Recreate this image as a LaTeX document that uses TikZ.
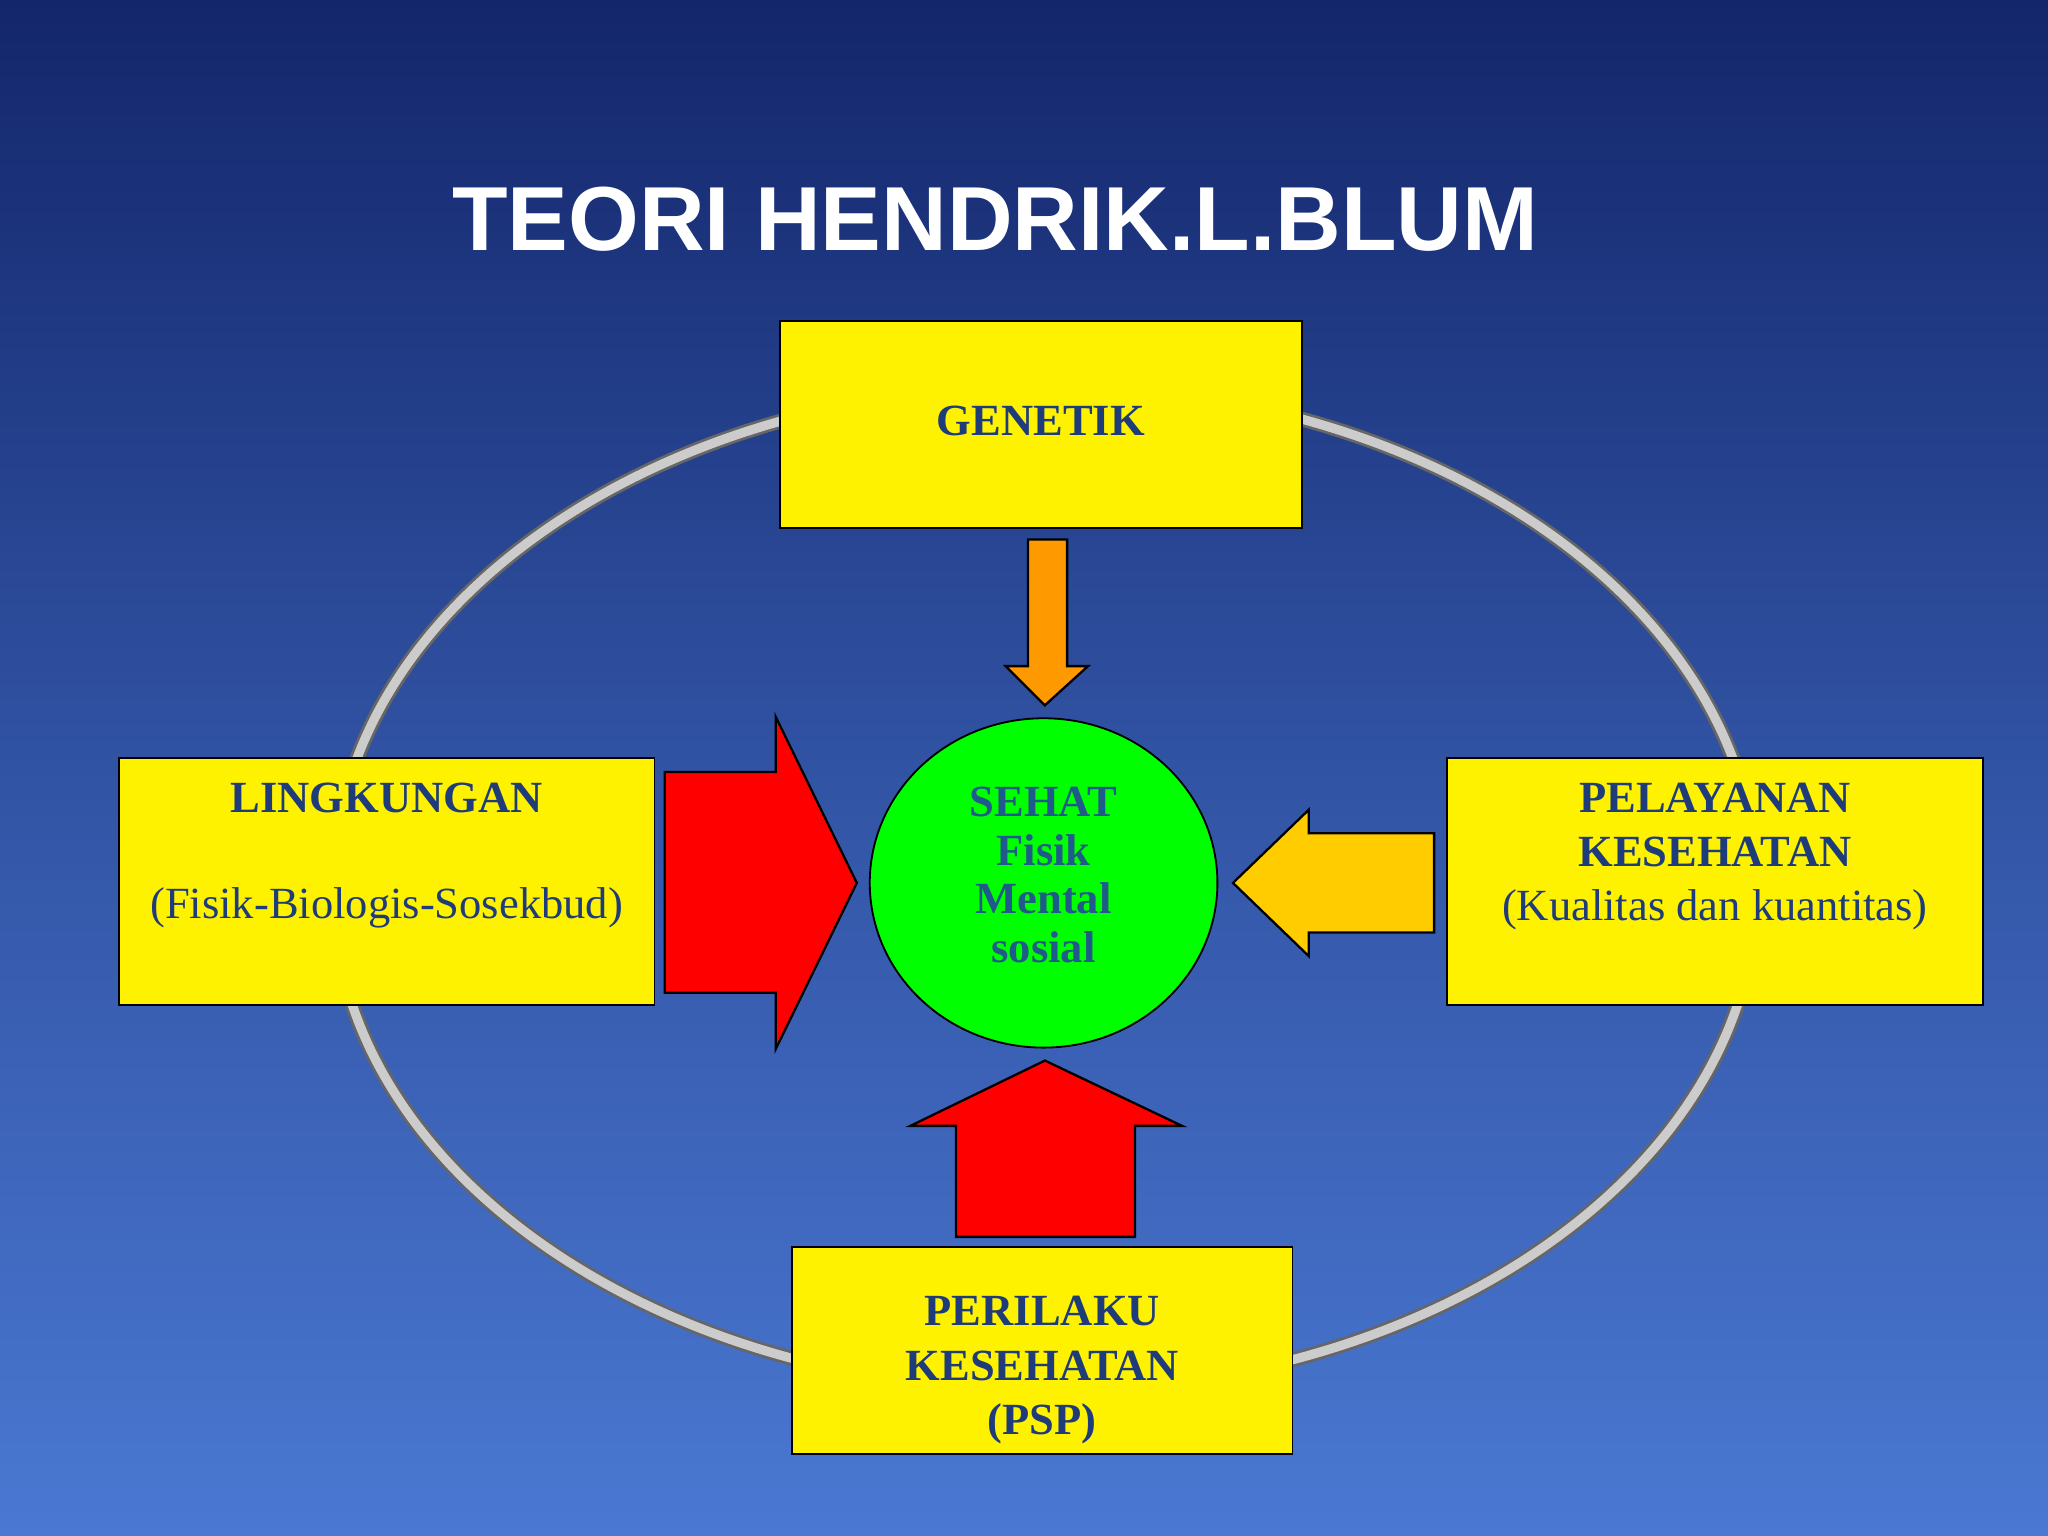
\documentclass[tikz,border=0pt]{standalone}
\usepackage{fontspec}
\setmainfont{Liberation Serif}
\setsansfont{Liberation Sans}
\usetikzlibrary{positioning, shapes.geometric}
\definecolor{navytop}{HTML}{13266B}
\definecolor{bluebot}{HTML}{4A78D2}
\definecolor{boxtext}{HTML}{1F3C7A}
\definecolor{circtext}{HTML}{1F5A8A}
\definecolor{darrow}{HTML}{FF9900}
\definecolor{larrow}{HTML}{FFCC00}
\begin{document}
\begin{tikzpicture}[
        x = 0.01cm, y = -0.01cm, % pixel grid
        factor/.style = {draw = black, fill = yellow, inner sep = 0pt},
        factortext/.style = {font = \fontsize{9.7}{11.8}\selectfont\bfseries, text = boxtext, align = center},
        bigarrow/.style = {draw = black, line width = 0.5pt}
    ]

    \useasboundingbox (0,0) rectangle (1568,1176);
    \shade[top color = navytop, bottom color = bluebot, middle color = navytop!45!bluebot] (0,0) rectangle (1568,1176);

    \node[font = \sffamily\bfseries\fontsize{19.8}{23}\selectfont, text = white] (title) at (762,168) {TEORI HENDRIK.L.BLUM};

    % outer ring
    \draw[black!60, line width = 3.2pt] (800,680) ellipse (545 and 385);
    \draw[black!20, line width = 2pt] (800,680) ellipse (545 and 385);

    \node[factor, minimum width = 4cm, minimum height = 1.59cm] (genetik) at (797,325) {};
    \node[factortext] (genetiktext) at (797,322) {GENETIK};
    \node[factor, minimum width = 4.1cm, minimum height = 1.89cm] (lingk) at (296,675) {};
    \node[factortext] (lingktext) at (296,655) {LINGKUNGAN\\[0.4cm]{\mdseries(Fisik-Biologis-Sosekbud)}};
    \node[factor, minimum width = 4.1cm, minimum height = 1.89cm] (pelay) at (1313,675) {};
    \node[factortext] (pelaytext) at (1313,656) {PELAYANAN\\KESEHATAN\\{\mdseries(Kualitas dan kuantitas)}};
    \node[factor, minimum width = 3.83cm, minimum height = 1.58cm] (peril) at (798,1034) {};
    \node[factortext] (periltext) at (798,1049) {PERILAKU\\KESEHATAN\\(PSP)};

    \node[draw = black, fill = green, ellipse, minimum width = 2.66cm, minimum height = 2.52cm] (sehat) at (799,676) {};
    \node[factortext, text = circtext, font = \fontsize{9.7}{10.6}\selectfont\bfseries] (sehattext) at (799,670)
        {SEHAT\\Fisik\\Mental\\sosial};

    % arrows into the centre
    \draw[bigarrow, fill = darrow] (787,413) -- (817,413) -- (817,510) -- (833,510) -- (800,540)
        -- (770,510) -- (787,510) -- cycle;
    \draw[bigarrow, fill = red] (509,591) -- (594,591) -- (594,549) -- (656,676) -- (594,803)
        -- (594,760) -- (509,760) -- cycle;
    \draw[bigarrow, fill = larrow] (1098,638) -- (1002,638) -- (1002,620) -- (944,676) -- (1002,732)
        -- (1002,714) -- (1098,714) -- cycle;
    \draw[bigarrow, fill = red] (732,947) -- (732,862) -- (697,862) -- (800,812) -- (905,862)
        -- (869,862) -- (869,947) -- cycle;
\end{tikzpicture}
\end{document}
